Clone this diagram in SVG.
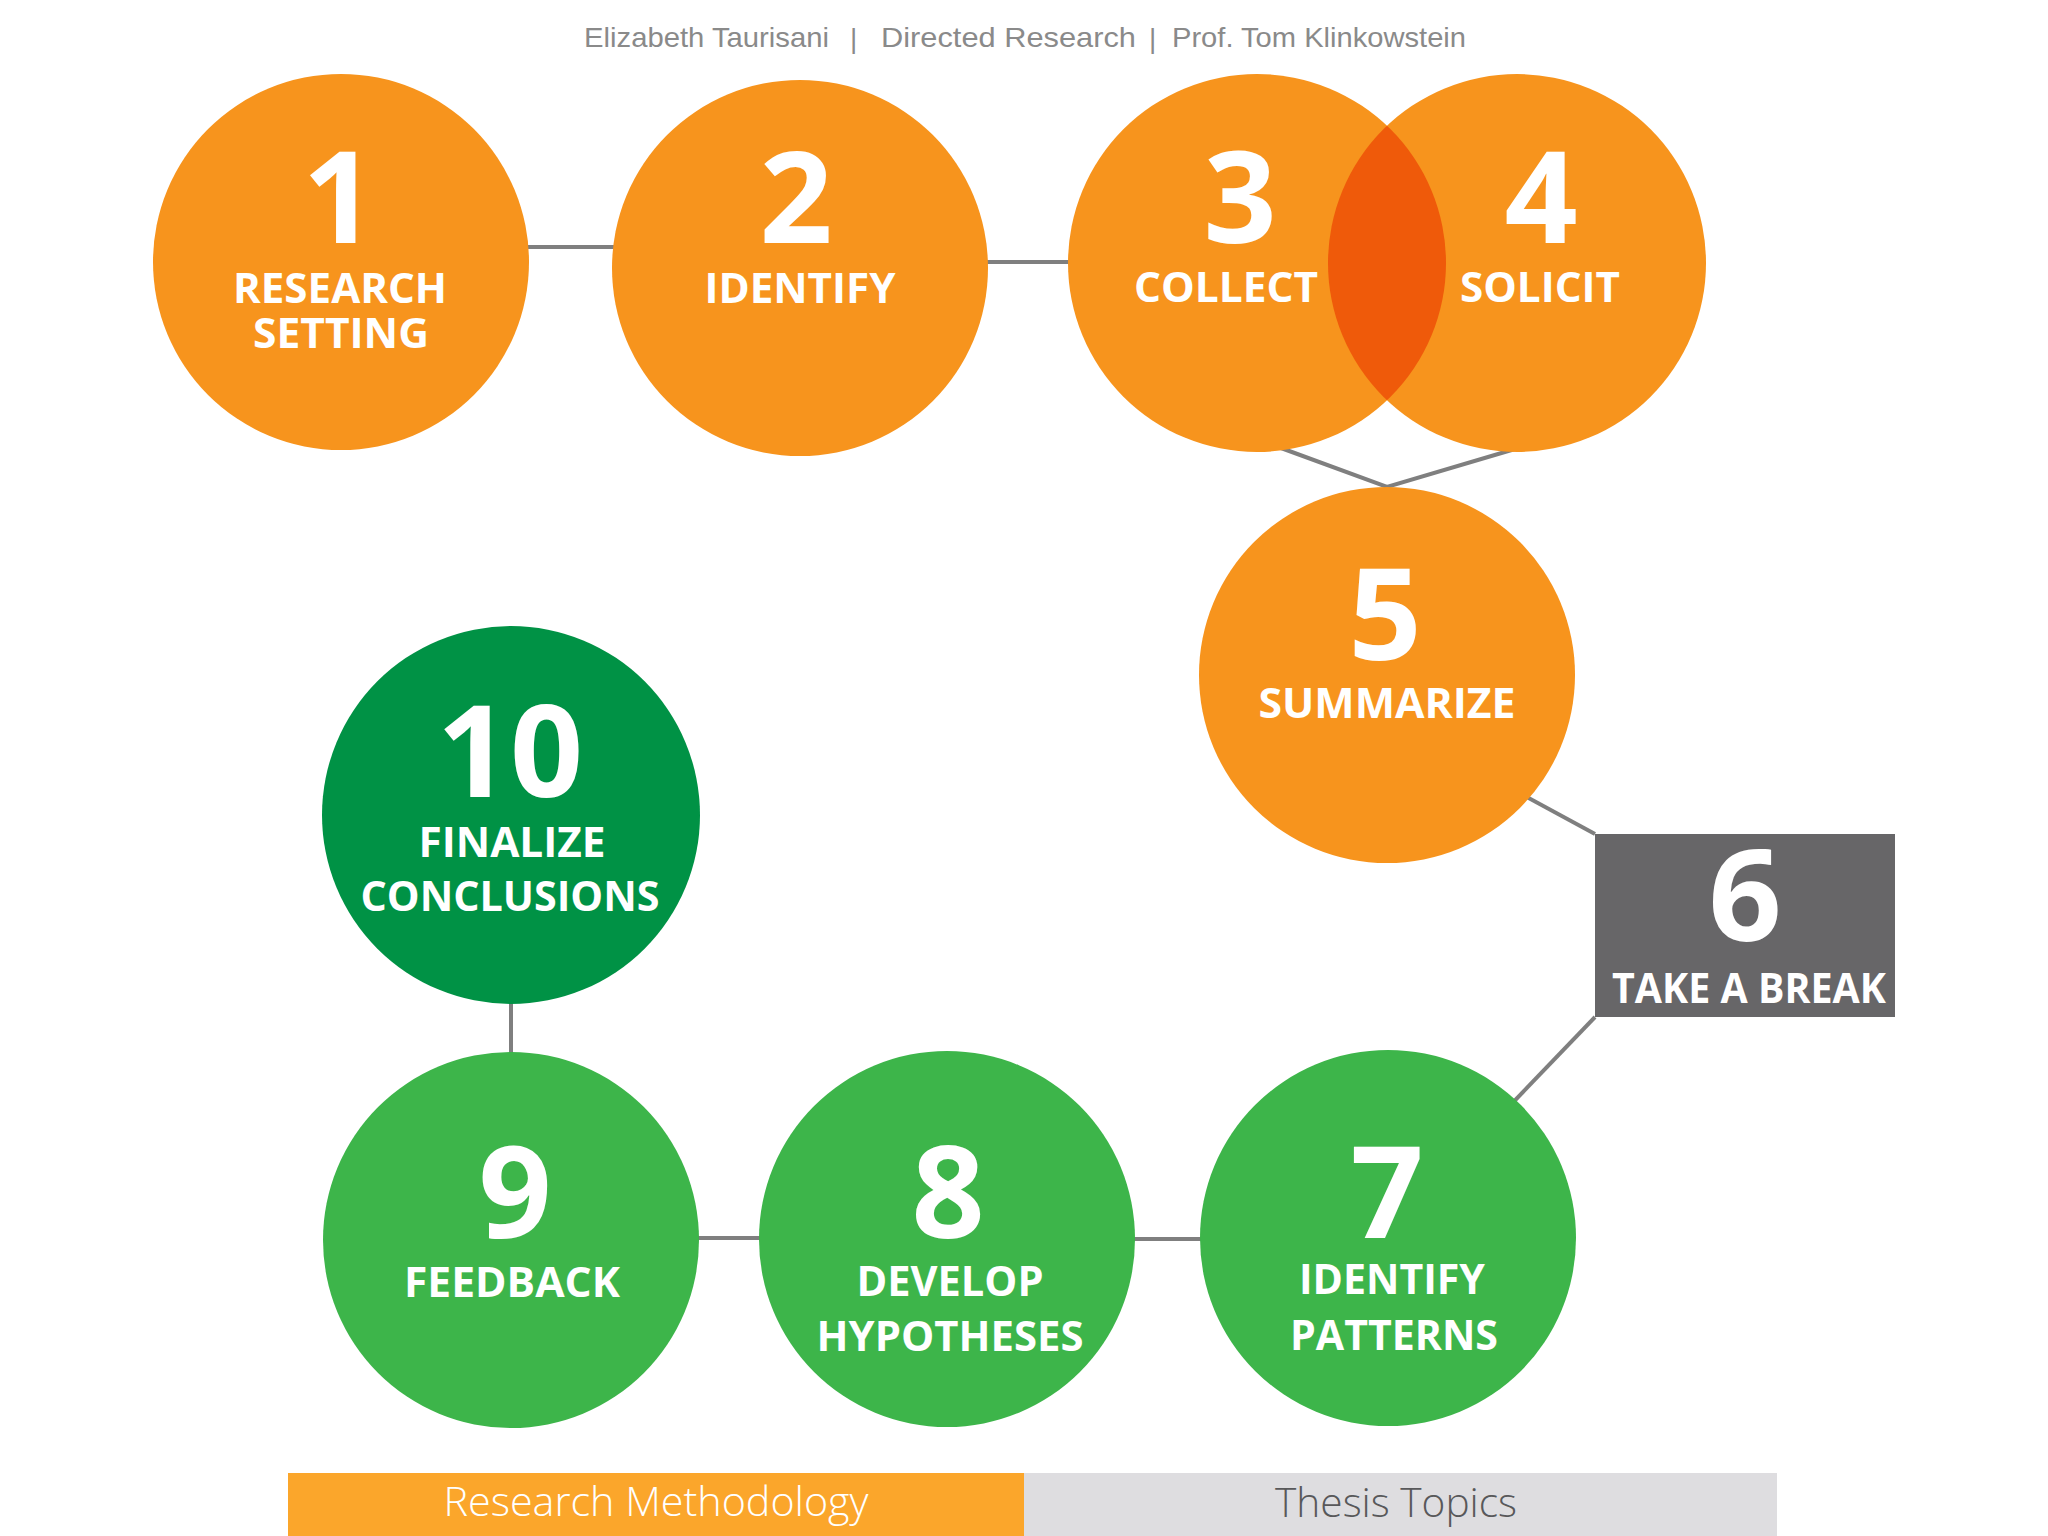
<svg xmlns="http://www.w3.org/2000/svg" width="2048" height="1536" viewBox="0 0 2048 1536">
  <style>
    .orange { fill: #F7941D; }
    .green { fill: #3DB54A; }
    .dkgreen { fill: #009245; }
    .grey { fill: #676668; }
    .overlap { fill: #EF5A0A; }
    .num { font-family: "Open Sans", "Noto Sans", sans-serif; font-weight: 700; font-size: 128px; fill: #FFFFFF; text-anchor: middle; }
    .lbl { font-family: "Open Sans", "Noto Sans", sans-serif; font-weight: 700; font-size: 42px; fill: #FFFFFF; text-anchor: middle; }
    .hdr { font-family: "Liberation Sans", "DejaVu Sans", sans-serif; font-size: 28px; fill: #8A8A8A; }
    .tab { font-family: "Open Sans", "Noto Sans", sans-serif; font-weight: 300; font-size: 40px; text-anchor: middle; }
    .conn { stroke: #7F7F7F; stroke-width: 4; fill: none; }
  </style>
  <defs>
    <clipPath id="clip4">
      <circle cx="1517" cy="263" r="189"/>
    </clipPath>
  </defs>
  <rect x="0" y="0" width="2048" height="1536" fill="#FFFFFF"/>

  <g id="header">
    <text class="hdr" x="584" y="47" textLength="245" lengthAdjust="spacingAndGlyphs">Elizabeth Taurisani</text>
    <text class="hdr" x="850" y="48">|</text>
    <text class="hdr" x="881" y="47" textLength="255" lengthAdjust="spacingAndGlyphs">Directed Research</text>
    <text class="hdr" x="1149" y="48">|</text>
    <text class="hdr" x="1172" y="47" textLength="294" lengthAdjust="spacingAndGlyphs">Prof. Tom Klinkowstein</text>
  </g>

  <g id="connectors">
    <line class="conn" x1="520" y1="247" x2="620" y2="247"/>
    <line class="conn" x1="980" y1="262" x2="1075" y2="262"/>
    <polyline class="conn" points="1281,448 1387,487 1515,449"/>
    <line class="conn" x1="1510" y1="788" x2="1595" y2="834"/>
    <line class="conn" x1="1595" y1="1017" x2="1499" y2="1117"/>
    <line class="conn" x1="1130" y1="1239" x2="1205" y2="1239"/>
    <line class="conn" x1="690" y1="1238" x2="765" y2="1238"/>
    <line class="conn" x1="511" y1="995" x2="511" y2="1060"/>
  </g>

  <g id="node1">
    <circle class="orange" cx="341" cy="262" r="188"/>
    <text class="num" x="339" y="243">1</text>
    <text class="lbl" x="340" y="303" textLength="214" lengthAdjust="spacingAndGlyphs">RESEARCH</text>
    <text class="lbl" x="341" y="348" textLength="176" lengthAdjust="spacingAndGlyphs">SETTING</text>
  </g>

  <g id="node2">
    <circle class="orange" cx="800" cy="268" r="188"/>
    <text class="num" x="796" y="243">2</text>
    <text class="lbl" x="800" y="303" textLength="191" lengthAdjust="spacingAndGlyphs">IDENTIFY</text>
  </g>

  <g id="node3">
    <circle class="orange" cx="1257" cy="263" r="189"/>
  </g>
  <g id="node4">
    <circle class="orange" cx="1517" cy="263" r="189"/>
    <circle class="overlap" cx="1257" cy="263" r="189" clip-path="url(#clip4)"/>
    <text class="num" x="1541" y="243">4</text>
    <text class="lbl" x="1540" y="302" textLength="160" lengthAdjust="spacingAndGlyphs">SOLICIT</text>
  </g>
  <g id="node3-text">
    <text class="num" x="1240" y="243">3</text>
    <text class="lbl" x="1226" y="302" textLength="184" lengthAdjust="spacingAndGlyphs">COLLECT</text>
  </g>

  <g id="node5">
    <circle class="orange" cx="1387" cy="675" r="188"/>
    <text class="num" x="1385" y="660">5</text>
    <text class="lbl" x="1387" y="718" textLength="257" lengthAdjust="spacingAndGlyphs">SUMMARIZE</text>
  </g>

  <g id="node6">
    <rect class="grey" x="1595" y="834" width="300" height="183"/>
    <text class="num" x="1745" y="941">6</text>
    <text class="lbl" x="1749" y="1003" textLength="274" lengthAdjust="spacingAndGlyphs">TAKE A BREAK</text>
  </g>

  <g id="node7">
    <circle class="green" cx="1388" cy="1238" r="188"/>
    <text class="num" x="1387" y="1238">7</text>
    <text class="lbl" x="1392" y="1294" textLength="186" lengthAdjust="spacingAndGlyphs">IDENTIFY</text>
    <text class="lbl" x="1394" y="1350" textLength="208" lengthAdjust="spacingAndGlyphs">PATTERNS</text>
  </g>

  <g id="node8">
    <circle class="green" cx="947" cy="1239" r="188"/>
    <text class="num" x="948" y="1238">8</text>
    <text class="lbl" x="950" y="1296" textLength="187" lengthAdjust="spacingAndGlyphs">DEVELOP</text>
    <text class="lbl" x="950" y="1351" textLength="267" lengthAdjust="spacingAndGlyphs">HYPOTHESES</text>
  </g>

  <g id="node9">
    <circle class="green" cx="511" cy="1240" r="188"/>
    <text class="num" x="515" y="1238">9</text>
    <text class="lbl" x="512" y="1297" textLength="216" lengthAdjust="spacingAndGlyphs">FEEDBACK</text>
  </g>

  <g id="node10">
    <circle class="dkgreen" cx="511" cy="815" r="189"/>
    <text class="num" x="510" y="797">10</text>
    <text class="lbl" x="512" y="857" textLength="187" lengthAdjust="spacingAndGlyphs">FINALIZE</text>
    <text class="lbl" x="510" y="911" textLength="299" lengthAdjust="spacingAndGlyphs">CONCLUSIONS</text>
  </g>

  <g id="tabs">
    <rect x="288" y="1473" width="736" height="63" fill="#FBA62B"/>
    <rect x="1024" y="1473" width="753" height="63" fill="#DEDDE0"/>
    <text class="tab" x="656" y="1516" fill="#FFFFFF" textLength="425" lengthAdjust="spacingAndGlyphs">Research Methodology</text>
    <text class="tab" x="1396" y="1517" fill="#58585A" textLength="242" lengthAdjust="spacingAndGlyphs">Thesis Topics</text>
  </g>
</svg>
